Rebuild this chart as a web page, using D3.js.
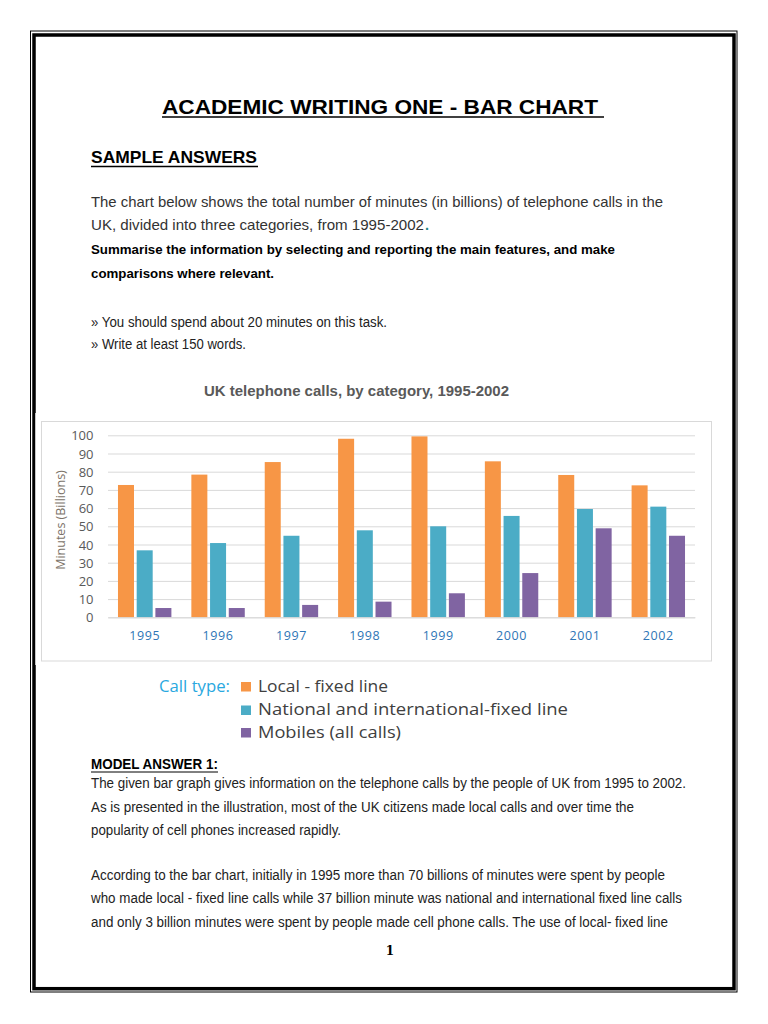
<!DOCTYPE html>
<html>
<head>
<meta charset="utf-8">
<script src="https://cdn.jsdelivr.net/npm/d3@7/dist/d3.min.js"></script>
<style>
  html, body { margin: 0; padding: 0; background: #fff; }
  svg { display: block; }
</style>
</head>
<body>
<svg id="page" width="768" height="1024"></svg>
<script>
// ---- Data ----
const years = ["1995", "1996", "1997", "1998", "1999", "2000", "2001", "2002"];
const localFixed = [72.7, 78.4, 85.3, 98.1, 99.4, 85.7, 78.2, 72.5];
const nationalFixed = [36.8, 40.8, 44.8, 47.8, 50.0, 55.7, 59.5, 60.8];
const mobiles = [5.1, 5.1, 6.8, 8.6, 13.2, 24.3, 48.9, 44.8];
const seriesNames = ["Local - fixed line", "National and international-fixed line", "Mobiles (all calls)"];
const yTicks = [0, 10, 20, 30, 40, 50, 60, 70, 80, 90, 100];

const seriesColors = ["#f79646", "#4bacc6", "#8064a2"];
const seriesValues = [localFixed, nationalFixed, mobiles];

const svg = d3.select("#page");
const NARROW = "'Liberation Sans Narrow', 'Arial Narrow', 'Liberation Sans', Arial, sans-serif";

// ---- Page border ----
svg.append("rect").attr("x", 30.5).attr("y", 31).attr("width", 706.5).attr("height", 961)
  .attr("fill", "none").attr("stroke", "#000").attr("stroke-width", 1);
svg.append("rect").attr("x", 34).attr("y", 35).attr("width", 700).attr("height", 953.7)
  .attr("fill", "none").attr("stroke", "#000").attr("stroke-width", 3.5);
// chart picture overlapping the left border
svg.append("rect").attr("x", 35.3).attr("y", 413).attr("width", 4).attr("height", 252).attr("fill", "#fff");

function txt(str, x, y, opts) {
  const t = svg.append("text").attr("x", x).attr("y", y).text(str)
    .attr("font-family", opts.family || "'Liberation Sans', Arial, sans-serif")
    .attr("font-size", opts.size)
    .attr("font-weight", opts.weight || "normal")
    .attr("fill", opts.fill || "#000");
  if (opts.anchor) t.attr("text-anchor", opts.anchor);
  if (opts.len) t.attr("textLength", opts.len).attr("lengthAdjust", "spacingAndGlyphs");
  return t;
}
function underline(x1, x2, y, w) {
  svg.append("line").attr("x1", x1).attr("x2", x2).attr("y1", y).attr("y2", y)
    .attr("stroke", "#000").attr("stroke-width", w);
}

// ---- Headings & prompt ----
txt("ACADEMIC WRITING ONE - BAR CHART", 162, 114, {size: 21, weight: "bold", len: 436});
underline(162, 604, 117, 1.6);
txt("SAMPLE ANSWERS", 91, 163, {size: 17, weight: "bold", len: 166});
underline(91, 258, 166.5, 1.6);

txt("The chart below shows the total number of minutes (in billions) of telephone calls in the", 91, 207, {size: 14.5, fill: "#333", len: 572});
txt("UK, divided into three categories, from 1995-2002", 91, 230, {size: 14.5, fill: "#333", len: 333});
txt(".", 425, 230, {size: 14.5, weight: "bold", fill: "#1f8a8a"});
txt("Summarise the information by selecting and reporting the main features, and make", 91, 254, {family: NARROW, size: 13.5, weight: "bold", len: 524});
txt("comparisons where relevant.", 91, 278, {family: NARROW, size: 13.5, weight: "bold", len: 183});
txt("» You should spend about 20 minutes on this task.", 91, 326.5, {family: NARROW, size: 14, fill: "#222", len: 296});
txt("» Write at least 150 words.", 91, 348.5, {family: NARROW, size: 14, fill: "#222", len: 155});

// ---- Chart ----
svg.append("rect").attr("x", 41.5).attr("y", 421.5).attr("width", 670).attr("height", 239.5)
  .attr("fill", "#fff").attr("stroke", "#d9d9d9").attr("stroke-width", 1);

txt("UK telephone calls, by category, 1995-2002", 204, 396, {size: 15, weight: "bold", fill: "#595959", len: 305});

const plotLeft = 108, plotRight = 695, plotTop = 435.3, plotBottom = 617.3;
const y = d3.scaleLinear().domain([0, 100]).range([plotBottom, plotTop]);
const x0 = d3.scaleBand().domain(years).range([plotLeft, plotRight]).paddingInner(0.272).paddingOuter(0.136);
const x1 = d3.scaleBand().domain([0, 1, 2]).range([0, x0.bandwidth()]).paddingInner(0.144).paddingOuter(0);

// gridlines
const grid = d3.axisLeft(y).tickValues(yTicks).tickSize(-(plotRight - plotLeft)).tickFormat("");
const gg = svg.append("g").attr("transform", `translate(${plotLeft},0)`).call(grid);
gg.select(".domain").remove();
gg.selectAll("line").attr("stroke", "#d9d9d9").attr("stroke-width", 1);

// y tick labels
const yAxis = d3.axisLeft(y).tickValues(yTicks).tickSize(0).tickPadding(0);
const ya = svg.append("g").attr("transform", `translate(93.5,0)`).call(yAxis);
ya.select(".domain").remove();
ya.selectAll("text").attr("font-family", "'Open Sans', sans-serif").attr("font-size", 13)
  .attr("fill", "#595959").attr("dy", "0.36em");

// y axis title
svg.append("text").attr("transform", "translate(65,520) rotate(-90)")
  .attr("text-anchor", "middle").attr("font-family", "'Open Sans', sans-serif")
  .attr("font-size", 12.5).attr("fill", "#7b7268").text("Minutes (Billions)");

// bars
const groups = svg.append("g").selectAll("g").data(years).join("g")
  .attr("transform", d => `translate(${x0(d)},0)`);
groups.selectAll("rect").data((d, i) => seriesValues.map((s, k) => ({k, v: s[i]}))).join("rect")
  .attr("x", d => x1(d.k)).attr("width", x1.bandwidth())
  .attr("y", d => y(d.v)).attr("height", d => y(0) - y(d.v))
  .attr("fill", d => seriesColors[d.k]);

// x axis
const xAxis = d3.axisBottom(x0).tickSize(0).tickPadding(0);
const xa = svg.append("g").attr("transform", `translate(0,${plotBottom})`).call(xAxis);
xa.select(".domain").attr("stroke", "#d9d9d9");
xa.selectAll("text").attr("font-family", "'Open Sans', sans-serif").attr("font-size", 12.5)
  .attr("letter-spacing", 0.6).attr("fill", "#2e75b6").attr("dy", 0).attr("y", 23);

// ---- Legend ----
txt("Call type:", 159, 691.5, {family: "'Open Sans', sans-serif", size: 15.5, fill: "#29a8e0", len: 71});
const legendRows = [{y: 691.5, len: 130}, {y: 715, len: 310}, {y: 737.5, len: 143}];
const lg = svg.append("g").selectAll("g").data(seriesNames).join("g");
lg.append("rect").attr("x", 241).attr("y", (d, i) => legendRows[i].y - 9.5)
  .attr("width", 10).attr("height", 9.5).attr("fill", (d, i) => seriesColors[i]);
lg.append("text").attr("x", 258).attr("y", (d, i) => legendRows[i].y)
  .attr("font-family", "'Open Sans', sans-serif").attr("font-size", 16).attr("fill", "#404040")
  .attr("textLength", (d, i) => legendRows[i].len).attr("lengthAdjust", "spacingAndGlyphs")
  .text(d => d);

// ---- Model answer ----
txt("MODEL ANSWER 1:", 91, 769.3, {family: NARROW, size: 14, weight: "bold", len: 127});
underline(91, 218, 772, 1);
const bodyLines = [
  ["The given bar graph gives information on the telephone calls by the people of UK from 1995 to 2002.", 788.3, 595],
  ["As is presented in the illustration, most of the UK citizens made local calls and over time the", 811.7, 543],
  ["popularity of cell phones increased rapidly.", 835, 250],
  ["According to the bar chart, initially in 1995 more than 70 billions of minutes were spent by people", 880, 574],
  ["who made local - fixed line calls while 37 billion minute was national and international fixed line calls", 903.3, 591],
  ["and only 3 billion minutes were spent by people made cell phone calls. The use of local- fixed line", 926.7, 577]
];
bodyLines.forEach(l => txt(l[0], 91, l[1], {family: NARROW, size: 14, fill: "#222", len: l[2]}));

// page number
txt("1", 390, 955, {family: "'DejaVu Serif', 'Liberation Serif', serif", size: 12, weight: "bold", anchor: "middle"});
</script>
</body>
</html>
